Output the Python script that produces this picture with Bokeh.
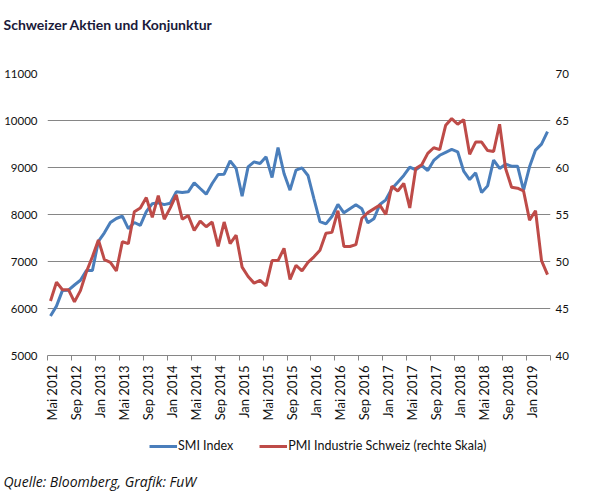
import math
import numpy as np
from bokeh.plotting import figure
from bokeh.layouts import column
from bokeh.models import Range1d, LinearAxis, FixedTicker, Legend, LegendItem, Title
from bokeh.embed import file_html
from bokeh.resources import INLINE

title_text = "Schweizer Aktien und Konjunktur"
source_text = "Quelle: Bloomberg, Grafik: FuW"
series_names = ["SMI Index", "PMI Industrie Schweiz (rechte Skala)"]

tick_labels = ["Mai 2012", "Sep 2012", "Jan 2013", "Mai 2013", "Sep 2013", "Jan 2014",
               "Mai 2014", "Sep 2014", "Jan 2015", "Mai 2015", "Sep 2015", "Jan 2016",
               "Mai 2016", "Sep 2016", "Jan 2017", "Mai 2017", "Sep 2017", "Jan 2018",
               "Mai 2018", "Sep 2018", "Jan 2019"]

# monthly values, May 2012 .. April 2019
smi = [5840, 6050, 6385, 6390, 6500, 6600, 6810, 6810, 7430, 7610,
       7830, 7915, 7965, 7700, 7830, 7770, 8060, 8230, 8250, 8210,
       8240, 8482, 8468, 8482, 8674, 8553, 8433, 8660, 8851, 8858,
       9142, 8979, 8390, 9014, 9120, 9085, 9227, 8787, 9426, 8872,
       8518, 8943, 8993, 8830, 8333, 7850, 7800, 7957, 8213, 8035,
       8120, 8205, 8120, 7823, 7908, 8213, 8312, 8546, 8688, 8830,
       9007, 8950, 9043, 8936, 9150, 9260, 9323, 9384, 9334, 8922,
       8744, 8886, 8466, 8609, 9157, 8979, 9071, 9028, 9028, 8516,
       9014, 9370, 9498, 9762]

pmi = [45.8, 47.8, 47.0, 47.0, 45.7, 46.9, 48.9, 50.5, 52.3, 50.2,
       49.9, 49.0, 52.1, 51.9, 55.3, 55.7, 56.8, 54.7, 57.0, 54.5,
       55.7, 57.1, 54.5, 54.9, 53.3, 54.3, 53.7, 54.2, 51.6, 54.2,
       51.9, 52.8, 49.4, 48.4, 47.7, 48.0, 47.4, 50.1, 50.1, 51.4,
       48.1, 49.6, 49.0, 49.9, 50.5, 51.2, 53.0, 53.1, 55.4, 51.6,
       51.6, 51.8, 54.6, 55.2, 55.6, 56.0, 55.0, 58.0, 57.5, 58.3,
       55.7, 59.9, 60.3, 61.5, 62.1, 61.9, 64.5, 65.2, 64.6, 65.1,
       61.4, 62.7, 62.7, 61.8, 61.7, 64.6, 59.9, 57.9, 57.8, 57.5,
       54.4, 55.4, 50.1, 48.6]

left_ticks = [5000, 6000, 7000, 8000, 9000, 10000, 11000]
right_ticks = [40, 45, 50, 55, 60, 65, 70]

FONT = "Lato"
TXT = "#111111"
BLUE = "#4A7EBB"
RED = "#BE4B48"
n = len(smi)
x = np.arange(n) + 0.5

# ---------------- main chart ----------------
p = figure(width=597, height=425, x_range=Range1d(0, n), y_range=Range1d(5000, 11000),
           output_backend="svg", toolbar_location=None, title=title_text,
           min_border_left=47, min_border_right=47, min_border_top=73, min_border_bottom=70)
p.extra_y_ranges = {"pmi": Range1d(40, 70)}
p.outline_line_color = None
p.background_fill_color = "white"
p.border_fill_color = "white"

p.title.align = "left"
p.title.offset = -44
p.title.vertical_align = "middle"
p.title.standoff = 27
p.title.text_font = FONT
p.title.text_font_style = "bold"
p.title.text_font_size = "14px"
p.title.text_color = "#1a1a3a"
p.add_layout(Title(text=" ", text_font_size="1px", standoff=23), "above")

p.xgrid.visible = False
p.ygrid.ticker = FixedTicker(ticks=left_ticks)
p.ygrid.grid_line_color = "#868686"
p.ygrid.grid_line_width = 1

ya = p.yaxis[0]
ya.ticker = FixedTicker(ticks=left_ticks)
ya.axis_line_color = None
ya.major_tick_line_color = None
ya.minor_tick_line_color = None
ya.major_tick_out = 0
ya.minor_tick_out = 0
ya.major_label_standoff = 10
ya.major_label_text_font = FONT
ya.major_label_text_font_size = "11.5px"
ya.major_label_text_color = TXT

ra = LinearAxis(y_range_name="pmi", ticker=FixedTicker(ticks=right_ticks))
ra.axis_line_color = None
ra.major_tick_line_color = None
ra.minor_tick_line_color = None
ra.major_tick_out = 0
ra.minor_tick_out = 0
ra.major_label_standoff = 5
ra.major_label_text_font = FONT
ra.major_label_text_font_size = "11.5px"
ra.major_label_text_color = TXT
p.add_layout(ra, "right")

xa = p.xaxis[0]
xticks = list(range(0, n + 1, 4))
xa.ticker = FixedTicker(ticks=xticks)
xa.major_label_overrides = {t: "" for t in xticks}
xa.axis_line_color = "#868686"
xa.major_tick_line_color = "#868686"
xa.major_tick_out = 5
xa.major_tick_in = 0
xa.minor_tick_line_color = None
xa.minor_tick_out = 0
xa.major_label_standoff = 0

lab_pos = [xticks[k] + 0.83 for k in range(len(tick_labels))]
la = LinearAxis(ticker=FixedTicker(ticks=lab_pos))
la.major_label_overrides = {pos: lab for pos, lab in zip(lab_pos, tick_labels)}
la.major_label_orientation = math.pi / 2
la.axis_line_color = None
la.major_tick_line_color = None
la.minor_tick_line_color = None
la.major_tick_out = 0
la.major_tick_in = 0
la.minor_tick_out = 0
la.minor_tick_in = 0
la.major_label_standoff = 5
la.major_label_text_font = FONT
la.major_label_text_font_size = "13px"
la.major_label_text_color = TXT
p.add_layout(la, "below")

p.line(x, smi, line_color=BLUE, line_width=3)
p.line(x, pmi, y_range_name="pmi", line_color=RED, line_width=3)

# ---------------- legend + source strip ----------------
p2 = figure(width=597, height=69, x_range=Range1d(0, 1), y_range=Range1d(0, 1),
            output_backend="svg", toolbar_location=None,
            x_axis_location=None, y_axis_location=None,
            min_border_left=0, min_border_right=0, min_border_top=0, min_border_bottom=0)
p2.grid.visible = False
p2.outline_line_color = None
p2.background_fill_color = "white"
p2.border_fill_color = "white"

k1 = p2.line(x, smi, line_color=BLUE, line_width=3, visible=False)
k2 = p2.line(x, pmi, line_color=RED, line_width=3, visible=False)

legend = Legend(items=[LegendItem(label=series_names[0], renderers=[k1]),
                       LegendItem(label=series_names[1], renderers=[k2])],
                orientation="horizontal", location=(102, 15),
                border_line_alpha=0, background_fill_alpha=0,
                glyph_width=28, glyph_height=12, label_standoff=1, spacing=26,
                padding=0, margin=0,
                label_text_font=FONT, label_text_font_size="12.5px", label_text_color=TXT)
p2.add_layout(legend)

p2.add_layout(Title(text=source_text, align="left", offset=-44, vertical_align="middle",
                    standoff=5, text_font="Open Sans", text_font_style="italic",
                    text_font_size="14px", text_color=TXT), "below")

layout = column(p, p2, spacing=0)
open("out.html", "w").write(file_html(layout, INLINE))
